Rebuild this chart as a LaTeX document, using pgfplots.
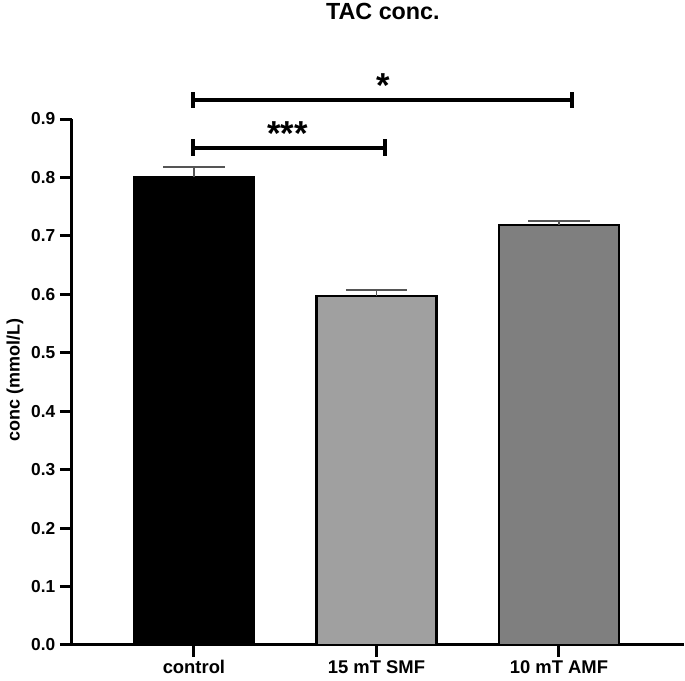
\documentclass[border=0pt]{standalone}
\usepackage{pgfplots}
\pgfplotsset{compat=1.18}
\usepackage{fontspec}
\setmainfont{Liberation Sans}
\definecolor{smf}{HTML}{A0A0A0}
\definecolor{amf}{HTML}{7F7F7F}
\definecolor{eb}{HTML}{555555}
\begin{document}
\begin{tikzpicture}
\begin{axis}[
  name=ax,
  scale only axis,
  width=459pt, height=394.5pt,
  xmin=-0.668, xmax=2.685,
  ymin=0, ymax=0.9,
  axis x line*=bottom, axis y line*=left,
  axis line style={line width=2.25pt},
  clip=false,
  xtick={0,1,2},
  xticklabels={control,15 mT SMF,10 mT AMF},
  ytick={0,0.1,...,0.9},
  tick align=outside,
  major tick length=9pt,
  tick style={line width=2.25pt, black},
  /pgf/number format/assume math mode=true,
  /pgf/number format/fixed,
  /pgf/number format/precision=1,
  /pgf/number format/fixed zerofill,
  tick label style={font=\fontsize{13}{15}\selectfont\bfseries},
  xticklabel style={font=\fontsize{13.8}{15}\selectfont\bfseries, yshift=1pt},
  yticklabel style={xshift=0pt},
  ylabel={conc (mmol/L)},
  ylabel style={font=\fontsize{13.5}{15}\selectfont\bfseries, at={(axis description cs:-0.093,0.504)}, anchor=center},
  title={TAC conc.},
  title style={font=\fontsize{17.5}{19}\selectfont\bfseries, at={(axis description cs:0.508,1.19)}, anchor=center, yshift=0pt},
  ybar, bar width=90pt,
  error bars/y dir=plus, error bars/y explicit,
  error bars/error bar style={line width=1.3pt, eb},
  error bars/error mark options={rotate=90, mark size=23pt, line width=1.3pt, eb},
]
\addplot[ybar, bar shift=0pt, fill=black, draw=black, line width=1.9pt] coordinates {(0,0.800) +- (0,0.018)};
\addplot[ybar, bar shift=0pt, fill=smf, draw=black, line width=1.9pt] coordinates {(1,0.597) +- (0,0.011)};
\addplot[ybar, bar shift=0pt, fill=amf, draw=black, line width=1.9pt] coordinates {(2,0.719) +- (0,0.007)};
% significance brackets
\draw[line width=3pt] (axis cs:-0.005,0.933) -- (axis cs:2.07,0.933);
\draw[line width=3pt] (axis cs:-0.005,0.919) -- (axis cs:-0.005,0.947);
\draw[line width=3pt] (axis cs:2.07,0.919) -- (axis cs:2.07,0.947);
\draw[line width=3pt] (axis cs:-0.005,0.851) -- (axis cs:1.047,0.851);
\draw[line width=3pt] (axis cs:-0.005,0.837) -- (axis cs:-0.005,0.865);
\draw[line width=3pt] (axis cs:1.047,0.837) -- (axis cs:1.047,0.865);
\node[font=\fontsize{26}{27}\selectfont\bfseries, anchor=base, inner sep=0pt] at (axis cs:1.036,0.937) {*};
\node[font=\fontsize{26}{27}\selectfont\bfseries, anchor=base, inner sep=0pt] at (axis cs:0.512,0.855) {***};
\end{axis}
\pgfresetboundingbox
\path[use as bounding box] ([shift={(-54pt,-27pt)}]ax.south west) rectangle ([shift={(459.75pt,483.75pt)}]ax.south west);
\end{tikzpicture}
\end{document}
